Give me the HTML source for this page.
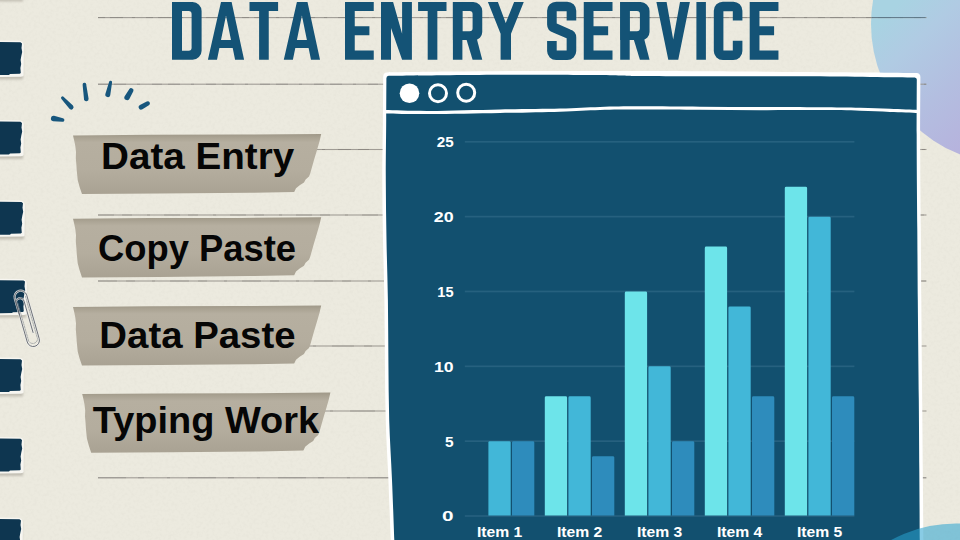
<!DOCTYPE html>
<html lang="en">
<head>
<meta charset="utf-8">
<title>Data Entry Service</title>
<style>
html,body{margin:0;padding:0;background:#eceadf;}
body{width:960px;height:540px;overflow:hidden;font-family:"Liberation Sans",sans-serif;}
svg{display:block;}
text{font-family:"Liberation Sans",sans-serif;}
</style>
</head>
<body>
<svg width="960" height="540" viewBox="0 0 960 540">
<defs>
<linearGradient id="cg" gradientUnits="userSpaceOnUse" x1="880" y1="20" x2="986" y2="137">
<stop offset="0" stop-color="#a8d3e2"/><stop offset="0.25" stop-color="#b0cbe3"/><stop offset="0.6" stop-color="#b3bee0"/><stop offset="0.95" stop-color="#b6b3dd"/>
</linearGradient>
<linearGradient id="tg" x1="0" y1="0" x2="0" y2="1">
<stop offset="0" stop-color="#9f9888"/><stop offset="0.06" stop-color="#aaa393"/><stop offset="0.14" stop-color="#b6afa0"/><stop offset="0.6" stop-color="#b4ad9e"/><stop offset="1" stop-color="#a9a293"/>
</linearGradient>
<filter id="b1" x="-20%" y="-20%" width="140%" height="140%"><feGaussianBlur stdDeviation="0.9"/></filter>
<filter id="pn" x="0" y="0" width="100%" height="100%"><feTurbulence type="fractalNoise" baseFrequency="0.32" numOctaves="2" seed="7" result="n"/><feColorMatrix type="matrix" values="0 0 0 0 0.35  0 0 0 0 0.33  0 0 0 0 0.28  0.9 0 0 0 -0.38"/></filter>
<filter id="b05"><feGaussianBlur stdDeviation="0.35"/></filter>
<clipPath id="pc"><path d="M388.6,75.7 C398.83,75.62 426.43,75.35 450,75.2 C473.57,75.05 503.33,74.8 530,74.8 C556.67,74.8 591.67,75 610,75.2 C628.33,75.4 625,75.83 640,76 C655,76.17 673.33,76.15 700,76.2 C726.67,76.25 771.67,76.18 800,76.3 C828.33,76.42 850.87,76.72 870,76.9 C889.13,77.08 907.33,77.32 914.8,77.4 Q916.8,77.6 916.8,79.6 L916.8,79.6 C916.78,91.33 916.62,124.93 916.7,150 C916.78,175.07 917.12,205 917.3,230 C917.48,255 917.55,271.67 917.8,300 C918.05,328.33 918.55,371.67 918.8,400 C919.05,428.33 919.13,445.83 919.3,470 C919.47,494.17 919.72,532.5 919.8,545 L394.5,545 C394.08,534.17 392.88,500.83 392,480 C391.12,459.17 389.8,440 389.2,420 C388.6,400 388.62,380 388.4,360 C388.18,340 388.22,320 387.9,300 C387.58,280 386.85,260 386.5,240 C386.15,220 385.85,200 385.8,180 C385.75,160 386.1,136.97 386.2,120 C386.3,103.03 386.37,85.17 386.4,78.2 Q386.4,75.8 388.6,75.7 Z"/></clipPath>
</defs>
<rect width="960" height="540" fill="#eceadf"/>
<rect width="960" height="540" filter="url(#pn)" opacity="0.13"/>
<!-- top-right circle -->
<circle cx="1011" cy="24" r="140" fill="url(#cg)"/>
<!-- ruled lines -->
<g fill="#98948e" opacity="0.9"><rect x="98" y="17.05" width="828.5" height="1.1"/><rect x="98" y="83.65" width="828.5" height="1.1"/><rect x="98" y="148.95" width="828.5" height="1.1"/><rect x="98" y="214.45" width="828.5" height="1.1"/><rect x="98" y="280.45" width="828.5" height="1.1"/><rect x="98" y="345.45" width="828.5" height="1.1"/><rect x="98" y="410.45" width="828.5" height="1.1"/><rect x="98" y="477.25" width="828.5" height="1.1"/><line x1="98" y1="17.6" x2="926" y2="17.6" stroke="#5d5a57" stroke-width="1" stroke-dasharray="7,5,13,9,3,11" opacity="0.35"/><line x1="98" y1="84.2" x2="926" y2="84.2" stroke="#5d5a57" stroke-width="1" stroke-dasharray="10,6,12,11,3,12" opacity="0.35"/><line x1="98" y1="149.5" x2="926" y2="149.5" stroke="#5d5a57" stroke-width="1" stroke-dasharray="13,7,11,13,3,13" opacity="0.35"/><line x1="98" y1="215" x2="926" y2="215" stroke="#5d5a57" stroke-width="1" stroke-dasharray="16,8,10,15,3,14" opacity="0.35"/><line x1="98" y1="281" x2="926" y2="281" stroke="#5d5a57" stroke-width="1" stroke-dasharray="19,9,9,17,3,15" opacity="0.35"/><line x1="98" y1="346" x2="926" y2="346" stroke="#5d5a57" stroke-width="1" stroke-dasharray="22,10,8,19,3,16" opacity="0.35"/><line x1="98" y1="411" x2="926" y2="411" stroke="#5d5a57" stroke-width="1" stroke-dasharray="25,11,7,21,3,17" opacity="0.35"/><line x1="98" y1="477.8" x2="926" y2="477.8" stroke="#5d5a57" stroke-width="1" stroke-dasharray="28,12,6,23,3,18" opacity="0.35"/></g>
<rect x="872" y="17.0" width="53.5" height="1" fill="#567589" opacity="0.8"/>
<!-- binder strips -->
<g><rect x="-3" y="-34.2" width="26.2" height="35.6" rx="1.5" fill="#a9a59a" opacity="0.6" filter="url(#b1)"/><path d="M-3,-37.8 L18,-37.5 Q23.6,-37.6 23.9,-33.2 L23.6,-2.6 Q23.4,-1.6 21,-1.5 L-3,-1.2 Z" fill="#f7f6f1"/><path d="M-3,-36.2 L20.5,-36 L22,-34.8 L21.5,-30.2 L22.2,-26.2 L21.3,-22.2 L20.6,-18.2 L21.2,-14.2 L20.4,-10.2 L20.8,-5.2 L19.8,-4.4 L10,-4.2 L9,-3.3 L-3,-3.2 Z" fill="#0e3650"/><rect x="-3" y="44" width="26.2" height="35.6" rx="1.5" fill="#a9a59a" opacity="0.6" filter="url(#b1)"/><path d="M-3,40.4 L18,40.7 Q23.6,40.6 23.9,45 L23.6,75.6 Q23.4,76.6 21,76.7 L-3,77 Z" fill="#f7f6f1"/><path d="M-3,42 L20.5,42.2 L22,43.4 L21.5,48 L22.2,52 L21.3,56 L20.6,60 L21.2,64 L20.4,68 L20.8,73 L19.8,73.8 L10,74 L9,74.9 L-3,75 Z" fill="#0e3650"/><rect x="-3" y="123.5" width="26.2" height="35.6" rx="1.5" fill="#a9a59a" opacity="0.6" filter="url(#b1)"/><path d="M-3,119.9 L18,120.2 Q23.6,120.1 23.9,124.5 L23.6,155.1 Q23.4,156.1 21,156.2 L-3,156.5 Z" fill="#f7f6f1"/><path d="M-3,121.5 L20.5,121.7 L22,122.9 L21.5,127.5 L22.2,131.5 L21.3,135.5 L20.6,139.5 L21.2,143.5 L20.4,147.5 L20.8,152.5 L19.8,153.3 L10,153.5 L9,154.4 L-3,154.5 Z" fill="#0e3650"/><rect x="-3" y="203.8" width="27.2" height="35.6" rx="1.5" fill="#a9a59a" opacity="0.6" filter="url(#b1)"/><path d="M-3,200.2 L19,200.5 Q24.6,200.4 24.9,204.8 L24.6,235.4 Q24.4,236.4 22,236.5 L-3,236.8 Z" fill="#f7f6f1"/><path d="M-3,201.8 L21.5,202 L23,203.2 L22.5,207.8 L23.2,211.8 L22.3,215.8 L21.6,219.8 L22.2,223.8 L21.4,227.8 L21.8,232.8 L20.8,233.6 L11,233.8 L10,234.7 L-3,234.8 Z" fill="#0e3650"/><rect x="-3" y="282.2" width="29.2" height="35.6" rx="1.5" fill="#a9a59a" opacity="0.6" filter="url(#b1)"/><path d="M-3,278.6 L21,278.9 Q26.6,278.8 26.9,283.2 L26.6,313.8 Q26.4,314.8 24,314.9 L-3,315.2 Z" fill="#f7f6f1"/><path d="M-3,280.2 L23.5,280.4 L25,281.6 L24.5,286.2 L25.2,290.2 L24.3,294.2 L23.6,298.2 L24.2,302.2 L23.4,306.2 L23.8,311.2 L22.8,312 L13,312.2 L12,313.1 L-3,313.2 Z" fill="#0e3650"/><rect x="-3" y="361" width="26.2" height="35.6" rx="1.5" fill="#a9a59a" opacity="0.6" filter="url(#b1)"/><path d="M-3,357.4 L18,357.7 Q23.6,357.6 23.9,362 L23.6,392.6 Q23.4,393.6 21,393.7 L-3,394 Z" fill="#f7f6f1"/><path d="M-3,359 L20.5,359.2 L22,360.4 L21.5,365 L22.2,369 L21.3,373 L20.6,377 L21.2,381 L20.4,385 L20.8,390 L19.8,390.8 L10,391 L9,391.9 L-3,392 Z" fill="#0e3650"/><rect x="-3" y="440.5" width="26.2" height="35.6" rx="1.5" fill="#a9a59a" opacity="0.6" filter="url(#b1)"/><path d="M-3,436.9 L18,437.2 Q23.6,437.1 23.9,441.5 L23.6,472.1 Q23.4,473.1 21,473.2 L-3,473.5 Z" fill="#f7f6f1"/><path d="M-3,438.5 L20.5,438.7 L22,439.9 L21.5,444.5 L22.2,448.5 L21.3,452.5 L20.6,456.5 L21.2,460.5 L20.4,464.5 L20.8,469.5 L19.8,470.3 L10,470.5 L9,471.4 L-3,471.5 Z" fill="#0e3650"/><rect x="-3" y="521" width="25.2" height="35.6" rx="1.5" fill="#a9a59a" opacity="0.6" filter="url(#b1)"/><path d="M-3,517.4 L17,517.7 Q22.6,517.6 22.9,522 L22.6,552.6 Q22.4,553.6 20,553.7 L-3,554 Z" fill="#f7f6f1"/><path d="M-3,519 L19.5,519.2 L21,520.4 L20.5,525 L21.2,529 L20.3,533 L19.6,537 L20.2,541 L19.4,545 L19.8,550 L18.8,550.8 L9,551 L8,551.9 L-3,552 Z" fill="#0e3650"/></g>
<!-- paper clip -->
<g transform="translate(27,318.6) rotate(-16)" fill="none" stroke-linecap="round">
<path d="M-6.2,-6 V-22.6 A6.2,6.2 0 0 1 6.2,-22.6 V22.6 A6.2,6.2 0 0 1 -6.2,22.6 V-17.5 A4.1,4.1 0 0 1 2,-17.5 V15" stroke="#eeeeec" stroke-width="2.2" opacity="0.85"/>
<path d="M-6.2,-6 V-22.6 A6.2,6.2 0 0 1 6.2,-22.6 V22.6 A6.2,6.2 0 0 1 -6.2,22.6 V-17.5 A4.1,4.1 0 0 1 2,-17.5 V15" stroke="#5b6068" stroke-width="0.8"/>
<path d="M-4.6,-17.5 V22 A4.7,4.7 0 0 0 4.6,22 V-22" stroke="#8a8f96" stroke-width="0.6" stroke-dasharray="1.6,1.1"/>
</g>
<!-- sparkles -->
<g fill="#17567d"><path d="M53.14,121.26 L62.3,121.78 A1.8,1.8 0 0 0 62.9,118.22 L54.06,115.74 A2.8,2.8 0 0 0 53.14,121.26 Z"/><path d="M61.43,99.09 L69.45,108.84 A2.4,2.4 0 0 0 72.95,105.56 L63.77,96.91 A1.6,1.6 0 0 0 61.43,99.09 Z"/><path d="M82.62,84.63 L84.02,99.3 A2.3,2.3 0 0 0 88.58,98.7 L86.18,84.17 A1.8,1.8 0 0 0 82.62,84.63 Z"/><path d="M109.14,81.87 L105.36,94.05 A2.5,2.5 0 0 0 110.24,95.15 L112.06,82.53 A1.5,1.5 0 0 0 109.14,81.87 Z"/><path d="M129.21,89.24 L124.67,96.24 A2.7,2.7 0 0 0 129.33,98.96 L133.19,91.56 A2.3,2.3 0 0 0 129.21,89.24 Z"/><path d="M146.75,101.58 L139.95,105.03 A2.5,2.5 0 0 0 142.45,109.37 L148.85,105.22 A2.1,2.1 0 0 0 146.75,101.58 Z"/></g>
<!-- title -->
<g fill="#145376"><path d="M172,2 H192.6 A9,9 0 0 1 201.6,11 V50.75 A9,9 0 0 1 192.6,59.75 H172 V2 Z M182,11 H188.6 A3,3 0 0 1 191.6,14 V47.65 A3,3 0 0 1 188.6,50.65 H182 V11 Z" fill-rule="evenodd"/><path d="M207.9,59.75 L221,2 L231.6,2 L244.1,59.75 L235.1,59.75 L232.7,48.1 L219.4,48.1 L217,59.75 Z M226,15.6 L231,40 L221,40 Z" fill-rule="evenodd"/><path d="M249.5,2 L278.1,2 L278.1,11 L268.75,11 L268.75,59.75 L259.1,59.75 L259.1,11 L249.5,11 Z"/><path d="M283.8,59.75 L296.9,2 L307.5,2 L320,59.75 L311,59.75 L308.6,48.1 L295.3,48.1 L292.9,59.75 Z M301.9,15.6 L306.9,40 L296.9,40 Z" fill-rule="evenodd"/><path d="M345,2 L373.75,2 L373.75,11 L354.75,11 L354.75,26.25 L369.4,26.25 L369.4,35.25 L354.75,35.25 L354.75,50.6 L373.75,50.6 L373.75,59.75 L345,59.75 Z"/><path d="M381,59.75 L381,2 L393.1,2 L402.1,33.75 L402.1,2 L411.9,2 L411.9,59.75 L402.1,59.75 L391,28.1 L391,59.75 Z"/><path d="M418.1,2 L446.5,2 L446.5,11 L437.35,11 L437.35,59.75 L427.7,59.75 L427.7,11 L418.1,11 Z"/><path d="M452.9,2 H473.25 A9,9 0 0 1 482.25,11 V32 A8,8 0 0 1 474.25,40 H452.9 V2 Z M462.4,11 H469.6 A3,3 0 0 1 472.6,14 V28.25 A3,3 0 0 1 469.6,31.25 H462.4 V11 Z" fill-rule="evenodd"/><path d="M452.9,2 L462.4,2 L462.4,59.75 L452.9,59.75 Z"/><path d="M464.5,33 L475.3,33 L482.25,59.75 L472.6,59.75 Z"/><path d="M487.9,2 L497.9,2 L505.75,23.1 L514.1,2 L523.75,2 L511,33.75 L511,59.75 L500.6,59.75 L500.6,33.75 Z"/><path d="M571.45,20.6 V10.75 A4.3,4.3 0 0 0 567.15,6.45 H556.2 A4.3,4.3 0 0 0 551.9,10.75 V24.5 Q551.9,27.2 554.9,28 L568.45,33.8 Q571.45,34.6 571.45,37.5 V51 A4.3,4.3 0 0 1 567.15,55.3 H556.2 A4.3,4.3 0 0 1 551.9,51 V41" fill="none" stroke="#145376" stroke-width="9.6" stroke-linejoin="round"/><path d="M583.75,2 L612.5,2 L612.5,11 L593.5,11 L593.5,26.25 L608.15,26.25 L608.15,35.25 L593.5,35.25 L593.5,50.6 L612.5,50.6 L612.5,59.75 L583.75,59.75 Z"/><path d="M620.2,2 H640.55 A9,9 0 0 1 649.55,11 V32 A8,8 0 0 1 641.55,40 H620.2 V2 Z M629.7,11 H636.9 A3,3 0 0 1 639.9,14 V28.25 A3,3 0 0 1 636.9,31.25 H629.7 V11 Z" fill-rule="evenodd"/><path d="M620.2,2 L629.7,2 L629.7,59.75 L620.2,59.75 Z"/><path d="M631.8,33 L642.6,33 L649.55,59.75 L639.9,59.75 Z"/><path d="M656.4,2 L666.6,2 L673.2,39.5 L680,2 L689.9,2 L678.25,59.75 L668.3,59.75 Z"/><path d="M696.4,2 L705.9,2 L705.9,59.75 L696.4,59.75 Z"/><path d="M737.6,20.4 V10.75 A4.3,4.3 0 0 0 733.3,6.45 H722.9 A4.3,4.3 0 0 0 718.6,10.75 V51 A4.3,4.3 0 0 0 722.9,55.3 H733.3 A4.3,4.3 0 0 0 737.6,51 V40.8" fill="none" stroke="#145376" stroke-width="9.6"/><path d="M749.7,2 L778.45,2 L778.45,11 L759.45,11 L759.45,26.25 L774.1,26.25 L774.1,35.25 L759.45,35.25 L759.45,50.6 L778.45,50.6 L778.45,59.75 L749.7,59.75 Z"/></g>
<!-- tapes -->
<g><path d="M73,135.4 L150,134.8 L240,134.6 L321.2,134 L319.6,141 L317.3,149 L314,160 L310.2,173.5 L309,176.5 L305.6,179.5 L304,182.5 L300,185 L296,188.2 L294.2,191.9 L250,192.8 L160,193.6 L82,194.1 L79.6,187 L77.7,180 L76.7,170 L76.4,165 L75.8,158 L76,152 L75.3,146 L74.3,141 Z" fill="url(#tg)"/><text x="101.02" y="168.7" textLength="193.16" lengthAdjust="spacingAndGlyphs" font-size="37.6" font-weight="700" fill="#060606">Data Entry</text><path d="M73,218.7 L150,218.1 L240,217.9 L321.2,217.3 L319.6,224.3 L317.3,232.3 L314,243.3 L310.2,256.8 L309,259.8 L305.6,262.8 L304,265.8 L300,268.3 L296,271.5 L294.2,275.2 L250,276.1 L160,276.9 L82,277.4 L79.6,270.3 L77.7,263.3 L76.7,253.3 L76.4,248.3 L75.8,241.3 L76,235.3 L75.3,229.3 L74.3,224.3 Z" fill="url(#tg)"/><text x="97.94" y="261.0" textLength="198.07" lengthAdjust="spacingAndGlyphs" font-size="37.6" font-weight="700" fill="#060606">Copy Paste</text><path d="M73,306.9 L150,306.3 L240,306.1 L321.2,305.5 L319.6,312.5 L317.3,320.5 L314,331.5 L310.2,345 L309,348 L305.6,351 L304,354 L300,356.5 L296,359.7 L294.2,363.4 L250,364.3 L160,365.1 L82,365.6 L79.6,358.5 L77.7,351.5 L76.7,341.5 L76.4,336.5 L75.8,329.5 L76,323.5 L75.3,317.5 L74.3,312.5 Z" fill="url(#tg)"/><text x="99.35" y="347.8" textLength="196.18" lengthAdjust="spacingAndGlyphs" font-size="37.6" font-weight="700" fill="#060606">Data Paste</text><path d="M82.2,394 L159.2,393.4 L249.2,393.2 L330.4,392.6 L328.8,399.6 L326.5,407.6 L323.2,418.6 L319.4,432.1 L318.2,435.1 L314.8,438.1 L313.2,441.1 L309.2,443.6 L305.2,446.8 L303.4,450.5 L259.2,451.4 L169.2,452.2 L91.2,452.7 L88.8,445.6 L86.9,438.6 L85.9,428.6 L85.6,423.6 L85,416.6 L85.2,410.6 L84.5,404.6 L83.5,399.6 Z" fill="url(#tg)"/><text x="92.87" y="432.8" textLength="226.32" lengthAdjust="spacingAndGlyphs" font-size="37.6" font-weight="700" fill="#060606">Typing Work</text></g>
<!-- chart panel -->
<path d="M386.8,72.5 C397.33,72.35 426.13,71.87 450,71.6 C473.87,71.33 501.67,70.98 530,70.9 C558.33,70.82 591.67,71.03 620,71.1 C648.33,71.17 670,71.17 700,71.3 C730,71.43 771.67,71.7 800,71.9 C828.33,72.1 850.58,72.3 870,72.5 C889.42,72.7 908.75,73 916.5,73.1 Q920.4,73.4 920.4,77 L920.4,77 C920.37,89.17 920.13,124.5 920.2,150 C920.27,175.5 920.62,205 920.8,230 C920.98,255 921.07,271.67 921.3,300 C921.53,328.33 921.95,371.67 922.2,400 C922.45,428.33 922.6,445.83 922.8,470 C923,494.17 923.3,532.5 923.4,545 L390.9,545 C390.48,534.17 389.27,500.83 388.4,480 C387.53,459.17 386.28,440 385.7,420 C385.12,400 385.12,380 384.9,360 C384.68,340 384.72,320 384.4,300 C384.08,280 383.35,260 383,240 C382.65,220 382.32,200 382.3,180 C382.28,160 382.75,137.17 382.9,120 C383.05,102.83 383.15,84.17 383.2,77 Q383.2,72.7 386.8,72.5 Z" fill="#ffffff"/>
<path d="M388.6,75.7 C398.83,75.62 426.43,75.35 450,75.2 C473.57,75.05 503.33,74.8 530,74.8 C556.67,74.8 591.67,75 610,75.2 C628.33,75.4 625,75.83 640,76 C655,76.17 673.33,76.15 700,76.2 C726.67,76.25 771.67,76.18 800,76.3 C828.33,76.42 850.87,76.72 870,76.9 C889.13,77.08 907.33,77.32 914.8,77.4 Q916.8,77.6 916.8,79.6 L916.8,79.6 C916.78,91.33 916.62,124.93 916.7,150 C916.78,175.07 917.12,205 917.3,230 C917.48,255 917.55,271.67 917.8,300 C918.05,328.33 918.55,371.67 918.8,400 C919.05,428.33 919.13,445.83 919.3,470 C919.47,494.17 919.72,532.5 919.8,545 L394.5,545 C394.08,534.17 392.88,500.83 392,480 C391.12,459.17 389.8,440 389.2,420 C388.6,400 388.62,380 388.4,360 C388.18,340 388.22,320 387.9,300 C387.58,280 386.85,260 386.5,240 C386.15,220 385.85,200 385.8,180 C385.75,160 386.1,136.97 386.2,120 C386.3,103.03 386.37,85.17 386.4,78.2 Q386.4,75.8 388.6,75.7 Z" fill="#12506f"/>
<path d="M385.5,110 C392.92,110.15 410.92,111 430,110.9 C449.08,110.8 478.33,109.8 500,109.4 C521.67,109 543.33,108.92 560,108.5 C576.67,108.08 586.67,107.27 600,106.9 C613.33,106.53 623.33,106.33 640,106.3 C656.67,106.27 680,106.58 700,106.7 C720,106.82 740,106.92 760,107 C780,107.08 803.33,107.08 820,107.2 C836.67,107.32 848.33,107.45 860,107.7 C871.67,107.95 880.33,108.33 890,108.7 C899.67,109.07 913.33,109.7 918,109.9 L918,112.9 C913.33,112.73 899.67,112.25 890,111.9 C880.33,111.55 871.67,111.1 860,110.8 C848.33,110.5 836.67,110.2 820,110.1 C803.33,110 780,110.27 760,110.2 C740,110.13 720,109.82 700,109.7 C680,109.58 656.67,109.47 640,109.5 C623.33,109.53 613.33,109.53 600,109.9 C586.67,110.27 576.67,111.18 560,111.7 C543.33,112.22 521.67,112.6 500,113 C478.33,113.4 449.08,114.03 430,114.1 C410.92,114.17 392.92,113.52 385.5,113.4 Z" fill="#ffffff"/>
<circle cx="409.5" cy="93.3" r="9.8" fill="#ffffff"/>
<circle cx="438" cy="93.3" r="8.5" fill="none" stroke="#ffffff" stroke-width="3"/>
<circle cx="466.2" cy="92.7" r="8.5" fill="none" stroke="#ffffff" stroke-width="3"/>
<g fill="#26617f"><rect x="464.8" y="515.15" width="389.6" height="1.7"/><rect x="464.8" y="440.31" width="389.6" height="1.7"/><rect x="464.8" y="365.47" width="389.6" height="1.7"/><rect x="464.8" y="290.63" width="389.6" height="1.7"/><rect x="464.8" y="215.79" width="389.6" height="1.7"/><rect x="464.8" y="140.95" width="389.6" height="1.7"/></g>
<g><path d="M489.8,441.16 H509.3 A1.4,1.4 0 0 1 510.7,442.56 V515.6 H488.4 V442.56 A1.4,1.4 0 0 1 489.8,441.16 Z" fill="#42b7d8"/><path d="M513.4,441.16 H532.9 A1.4,1.4 0 0 1 534.3,442.56 V515.6 H512 V442.56 A1.4,1.4 0 0 1 513.4,441.16 Z" fill="#2e8cbc"/><path d="M546.2,396.26 H565.7 A1.4,1.4 0 0 1 567.1,397.66 V515.6 H544.8 V397.66 A1.4,1.4 0 0 1 546.2,396.26 Z" fill="#6de4ea"/><path d="M569.8,396.26 H589.3 A1.4,1.4 0 0 1 590.7,397.66 V515.6 H568.4 V397.66 A1.4,1.4 0 0 1 569.8,396.26 Z" fill="#42b7d8"/><path d="M593.4,456.13 H612.9 A1.4,1.4 0 0 1 614.3,457.53 V515.6 H592 V457.53 A1.4,1.4 0 0 1 593.4,456.13 Z" fill="#2e8cbc"/><path d="M626.2,291.48 H645.7 A1.4,1.4 0 0 1 647.1,292.88 V515.6 H624.8 V292.88 A1.4,1.4 0 0 1 626.2,291.48 Z" fill="#6de4ea"/><path d="M649.8,366.32 H669.3 A1.4,1.4 0 0 1 670.7,367.72 V515.6 H648.4 V367.72 A1.4,1.4 0 0 1 649.8,366.32 Z" fill="#42b7d8"/><path d="M673.4,441.16 H692.9 A1.4,1.4 0 0 1 694.3,442.56 V515.6 H672 V442.56 A1.4,1.4 0 0 1 673.4,441.16 Z" fill="#2e8cbc"/><path d="M706.2,246.58 H725.7 A1.4,1.4 0 0 1 727.1,247.98 V515.6 H704.8 V247.98 A1.4,1.4 0 0 1 706.2,246.58 Z" fill="#6de4ea"/><path d="M729.8,306.45 H749.3 A1.4,1.4 0 0 1 750.7,307.85 V515.6 H728.4 V307.85 A1.4,1.4 0 0 1 729.8,306.45 Z" fill="#42b7d8"/><path d="M753.4,396.26 H772.9 A1.4,1.4 0 0 1 774.3,397.66 V515.6 H752 V397.66 A1.4,1.4 0 0 1 753.4,396.26 Z" fill="#2e8cbc"/><path d="M786.2,186.7 H805.7 A1.4,1.4 0 0 1 807.1,188.1 V515.6 H784.8 V188.1 A1.4,1.4 0 0 1 786.2,186.7 Z" fill="#6de4ea"/><path d="M809.8,216.64 H829.3 A1.4,1.4 0 0 1 830.7,218.04 V515.6 H808.4 V218.04 A1.4,1.4 0 0 1 809.8,216.64 Z" fill="#42b7d8"/><path d="M833.4,396.26 H852.9 A1.4,1.4 0 0 1 854.3,397.66 V515.6 H832 V397.66 A1.4,1.4 0 0 1 833.4,396.26 Z" fill="#2e8cbc"/></g>
<g fill="#ffffff" font-size="14.6" font-weight="700"><text transform="translate(453.6,520.8) scale(1.42,1)" x="0" y="0" text-anchor="end">0</text><text transform="translate(453.6,446.66) scale(1.06,1)" x="0" y="0" text-anchor="end">5</text><text transform="translate(453.6,371.82) scale(1.21,1)" x="0" y="0" text-anchor="end">10</text><text transform="translate(453.6,296.98) scale(1.0,1)" x="0" y="0" text-anchor="end">15</text><text transform="translate(453.6,222.14) scale(1.22,1)" x="0" y="0" text-anchor="end">20</text><text transform="translate(453.6,147.3) scale(1.04,1)" x="0" y="0" text-anchor="end">25</text><text x="499.6" y="536.7" text-anchor="middle" textLength="45.4" lengthAdjust="spacingAndGlyphs">Item 1</text><text x="579.6" y="536.7" text-anchor="middle" textLength="45.4" lengthAdjust="spacingAndGlyphs">Item 2</text><text x="659.6" y="536.7" text-anchor="middle" textLength="45.4" lengthAdjust="spacingAndGlyphs">Item 3</text><text x="739.6" y="536.7" text-anchor="middle" textLength="45.4" lengthAdjust="spacingAndGlyphs">Item 4</text><text x="819.6" y="536.7" text-anchor="middle" textLength="45.4" lengthAdjust="spacingAndGlyphs">Item 5</text></g>
<!-- bottom-right circle -->
<circle cx="956" cy="658.4" r="135" fill="#28a2cf" opacity="0.55"/>
</svg>
</body>
</html>
